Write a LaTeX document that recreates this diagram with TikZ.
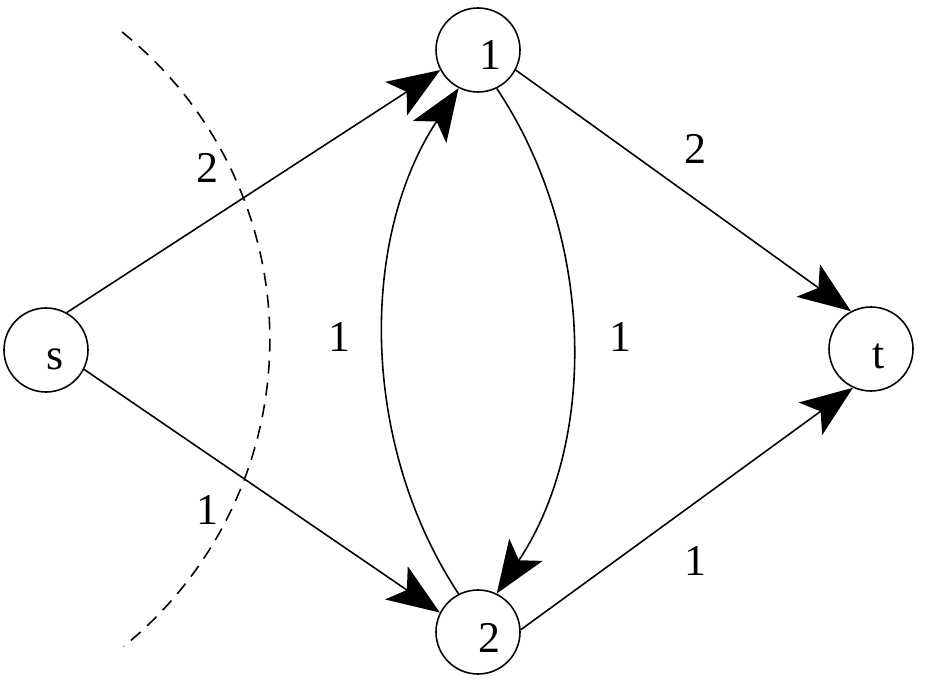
\documentclass[tikz,border=0pt]{standalone}
\usepackage{fontspec}
\setmainfont{Liberation Serif}
\usetikzlibrary{arrows.meta}

\begin{document}
\begin{tikzpicture}[
    x=0.2mm, y=0.2mm,
    line width=0.9pt,
    every node/.style={font=\fontsize{25}{30}\selectfont},
    vertex/.style={draw, circle, minimum size=16.8mm, inner sep=0pt},
    tag/.style={anchor=base, inner sep=0pt},
    weight/.style={inner sep=0pt},
    flow/.style={-{Stealth[length=10.5mm, width=8mm, inset=2.5mm]}},
    cutline/.style={dash pattern=on 2.6mm off 1.8mm}
]
\useasboundingbox (0,0) rectangle (925,679);
\node[vertex] (s) at (46,329) {};
\node[vertex] (v1) at (478,629) {};
\node[vertex] (v2) at (478,47) {};
\node[vertex] (t) at (871,330) {};
\foreach \v/\txt/\dx in {s/s/9, v1/1/12, v2/2/11, t/t/8}
    \node[tag] (\v-name) at ([shift={(\dx,-20)}]\v.center) {\txt};
\draw[flow] (s.61) -- (v1.208);
\draw[flow] (s.-27) -- (v2.153);
\draw[flow] (v1.-28) -- (t.118);
\draw[flow] (v2.3) -- (t.245);
\draw[flow] (v2.117) .. controls +(-99,150) and +(-99,-150) .. (v1.243);
\draw[flow] (v1.-64) .. controls +(100,-150) and +(100,150) .. (v2.64);
% Веса рёбер
\node[weight] (w-s1) at (207,511) {2};
\node[weight] (w-s2) at (207,169) {1};
\node[weight] (w-1t) at (695,530) {2};
\node[weight] (w-2t) at (695,118) {1};
\node[weight] (w-21) at (339,342) {1};
\node[weight] (w-12) at (620,342) {1};
% Разрез
\coordinate (cut-top) at (122,647);
\draw[cutline] (cut-top) arc[start angle=51.3, end angle=-51, radius=78.9mm];
\end{tikzpicture}
\end{document}
